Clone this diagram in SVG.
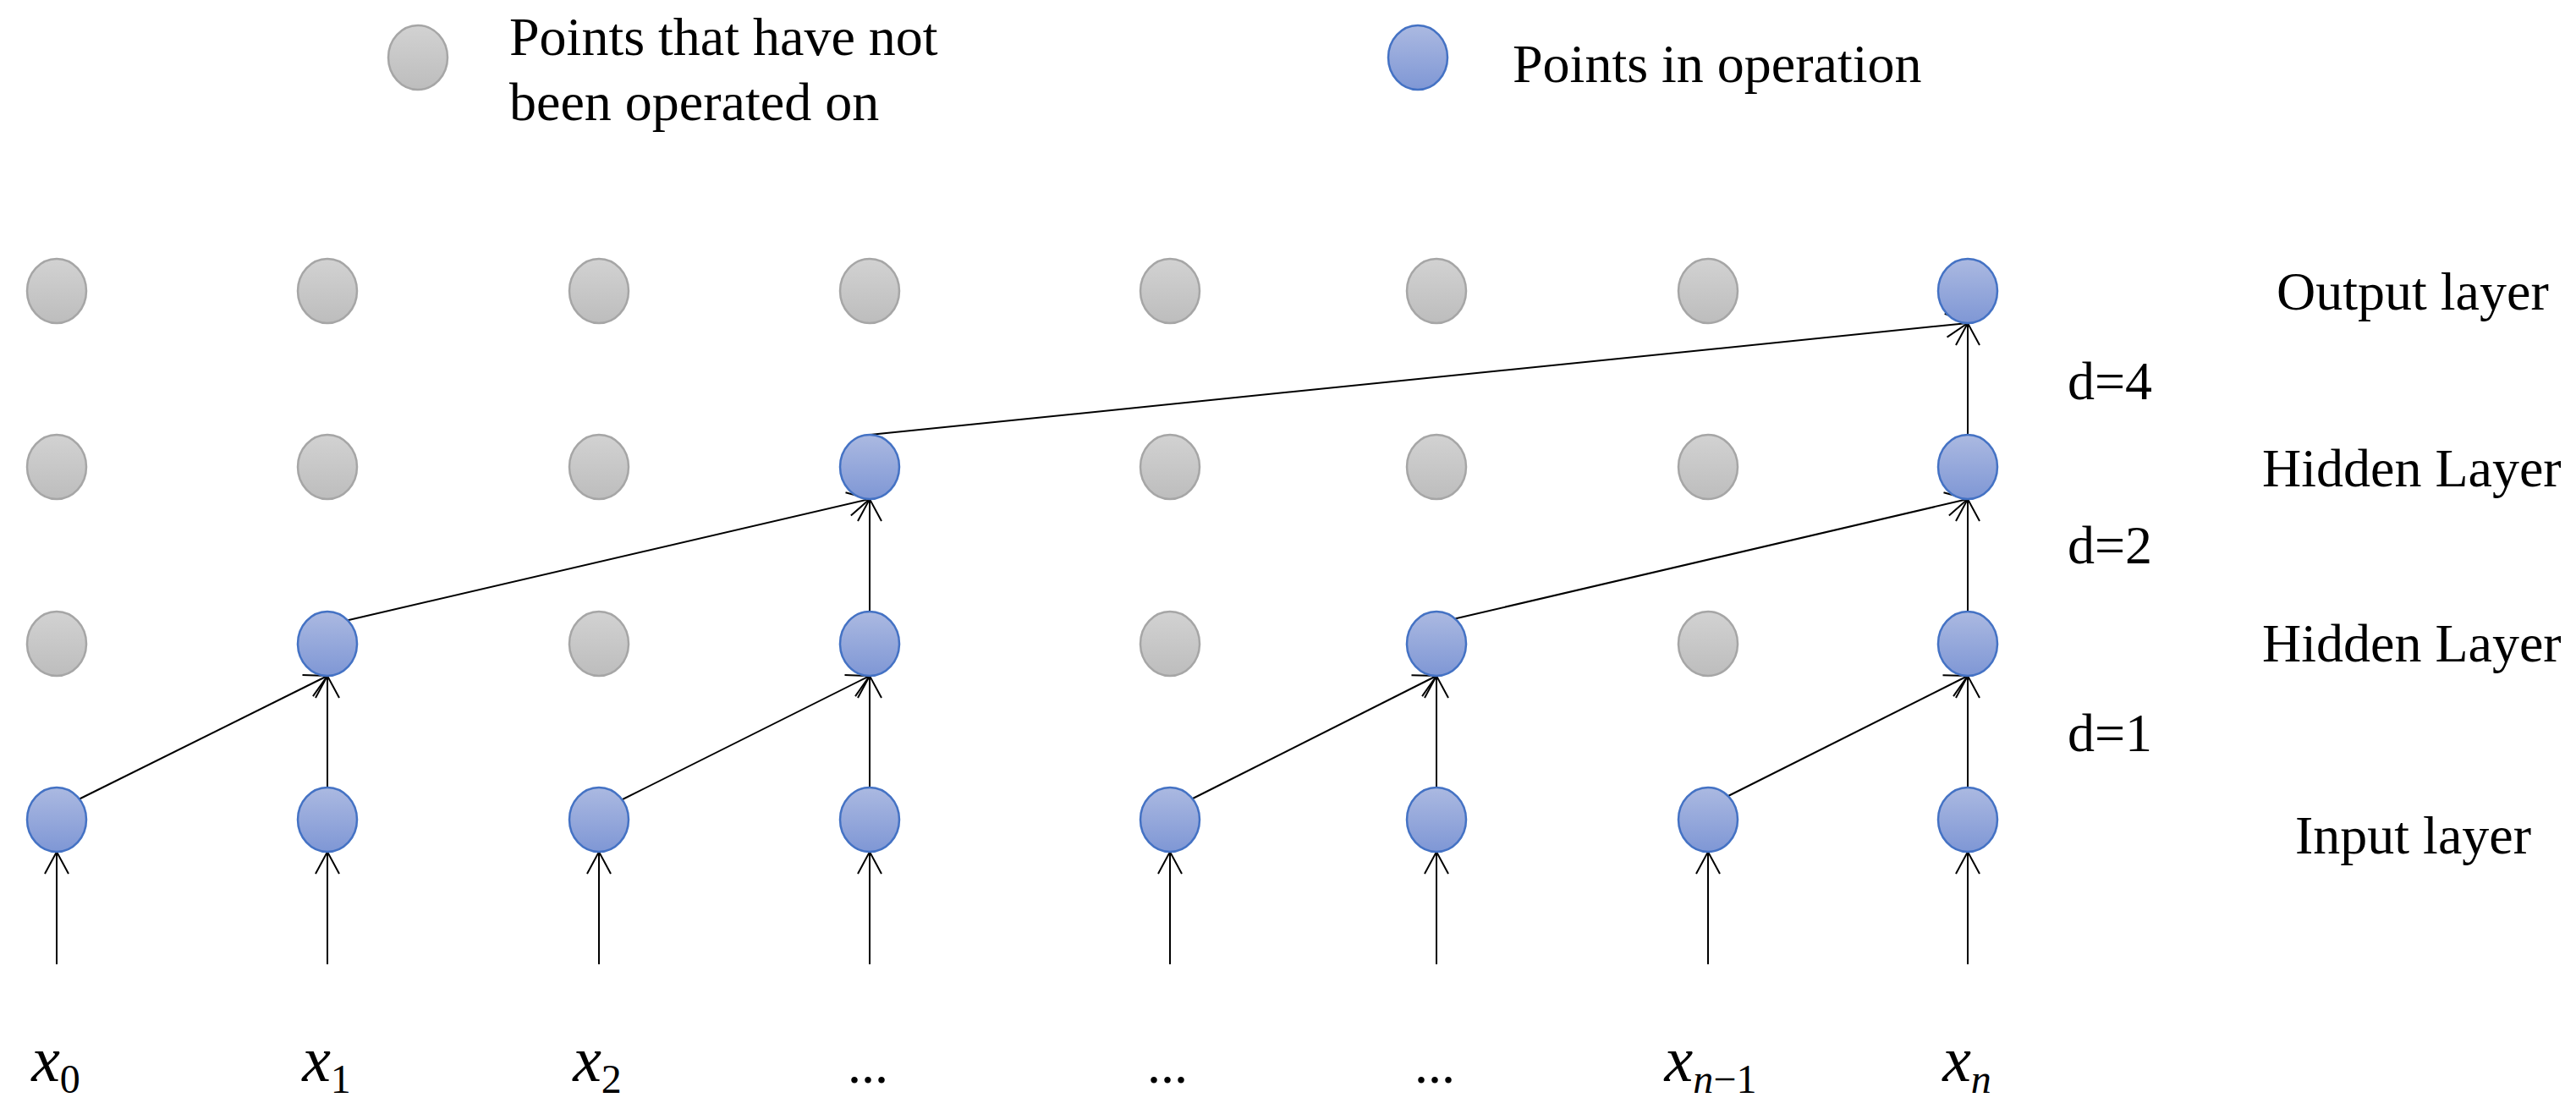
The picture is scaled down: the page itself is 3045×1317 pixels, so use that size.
<svg xmlns="http://www.w3.org/2000/svg" width="3045" height="1317" viewBox="0 0 3045 1317">
<defs>
<linearGradient id="gGray" x1="0" y1="0" x2="0" y2="1">
<stop offset="0" stop-color="#d2d2d2"/><stop offset="1" stop-color="#bdbdbd"/>
</linearGradient>
<linearGradient id="gBlue" x1="0" y1="0" x2="0" y2="1">
<stop offset="0" stop-color="#abb9e1"/><stop offset="1" stop-color="#7f97d5"/>
</linearGradient>
<marker id="arr" markerUnits="userSpaceOnUse" markerWidth="32" markerHeight="32" refX="27" refY="15" orient="auto" overflow="visible">
<path d="M1,1 L27,15 L1,29" fill="none" stroke="#000" stroke-width="2"/>
</marker>
<style>
.g{fill:url(#gGray);stroke:#a6a6a6;stroke-width:2.5}
.b{fill:url(#gBlue);stroke:#4472c4;stroke-width:2.5}
.t{font-family:"Liberation Serif","Times New Roman",serif;font-size:64px;fill:#000}
.m{font-family:"Liberation Serif","Times New Roman",serif;font-size:76px;font-style:italic;fill:#000}
.s{font-size:48px}
.n{font-style:normal}
.c line{stroke:#000;stroke-width:2;marker-end:url(#arr)}
</style>
</defs>
<rect width="3045" height="1317" fill="#fff"/>

<g id="legend-idle"><ellipse class="g" cx="494" cy="68" rx="35" ry="38"/>
<text class="t" x="602" y="65">Points that have not</text>
<text class="t" x="602" y="142">been operated on</text></g>
<g id="legend-active"><ellipse class="b" cx="1676" cy="68" rx="35" ry="38"/>
<text class="t" x="1788" y="97">Points in operation</text></g>

<g id="connectors" class="c">
<line x1="67" y1="1140" x2="67" y2="1007"/>
<line x1="387" y1="1140" x2="387" y2="1007"/>
<line x1="708" y1="1140" x2="708" y2="1007"/>
<line x1="1028" y1="1140" x2="1028" y2="1007"/>
<line x1="1383" y1="1140" x2="1383" y2="1007"/>
<line x1="1698" y1="1140" x2="1698" y2="1007"/>
<line x1="2019" y1="1140" x2="2019" y2="1007"/>
<line x1="2326" y1="1140" x2="2326" y2="1007"/>
<line x1="387" y1="931" x2="387" y2="799"/>
<line x1="1028" y1="931" x2="1028" y2="799"/>
<line x1="1698" y1="931" x2="1698" y2="799"/>
<line x1="2326" y1="931" x2="2326" y2="799"/>
<line x1="91" y1="946" x2="387" y2="799"/>
<line x1="734" y1="946" x2="1028" y2="799"/>
<line x1="1406" y1="946" x2="1698" y2="799"/>
<line x1="2033" y1="946" x2="2326" y2="799"/>
<line x1="1028" y1="723" x2="1028" y2="590"/>
<line x1="2326" y1="723" x2="2326" y2="590"/>
<line x1="408" y1="734" x2="1028" y2="590"/>
<line x1="1709" y1="734" x2="2326" y2="590"/>
<line x1="2326" y1="514" x2="2326" y2="382"/>
<line x1="1028" y1="514" x2="2326" y2="382"/>
</g>

<g id="out0"><ellipse class="g" cx="67" cy="344" rx="35" ry="38"/></g>
<g id="out1"><ellipse class="g" cx="387" cy="344" rx="35" ry="38"/></g>
<g id="out2"><ellipse class="g" cx="708" cy="344" rx="35" ry="38"/></g>
<g id="out3"><ellipse class="g" cx="1028" cy="344" rx="35" ry="38"/></g>
<g id="out4"><ellipse class="g" cx="1383" cy="344" rx="35" ry="38"/></g>
<g id="out5"><ellipse class="g" cx="1698" cy="344" rx="35" ry="38"/></g>
<g id="out6"><ellipse class="g" cx="2019" cy="344" rx="35" ry="38"/></g>
<g id="out7"><ellipse class="b" cx="2326" cy="344" rx="35" ry="38"/></g>

<g id="h2_0"><ellipse class="g" cx="67" cy="552" rx="35" ry="38"/></g>
<g id="h2_1"><ellipse class="g" cx="387" cy="552" rx="35" ry="38"/></g>
<g id="h2_2"><ellipse class="g" cx="708" cy="552" rx="35" ry="38"/></g>
<g id="h2_3"><ellipse class="b" cx="1028" cy="552" rx="35" ry="38"/></g>
<g id="h2_4"><ellipse class="g" cx="1383" cy="552" rx="35" ry="38"/></g>
<g id="h2_5"><ellipse class="g" cx="1698" cy="552" rx="35" ry="38"/></g>
<g id="h2_6"><ellipse class="g" cx="2019" cy="552" rx="35" ry="38"/></g>
<g id="h2_7"><ellipse class="b" cx="2326" cy="552" rx="35" ry="38"/></g>

<g id="h1_0"><ellipse class="g" cx="67" cy="761" rx="35" ry="38"/></g>
<g id="h1_1"><ellipse class="b" cx="387" cy="761" rx="35" ry="38"/></g>
<g id="h1_2"><ellipse class="g" cx="708" cy="761" rx="35" ry="38"/></g>
<g id="h1_3"><ellipse class="b" cx="1028" cy="761" rx="35" ry="38"/></g>
<g id="h1_4"><ellipse class="g" cx="1383" cy="761" rx="35" ry="38"/></g>
<g id="h1_5"><ellipse class="b" cx="1698" cy="761" rx="35" ry="38"/></g>
<g id="h1_6"><ellipse class="g" cx="2019" cy="761" rx="35" ry="38"/></g>
<g id="h1_7"><ellipse class="b" cx="2326" cy="761" rx="35" ry="38"/></g>

<g id="in0"><ellipse class="b" cx="67" cy="969" rx="35" ry="38"/></g>
<g id="in1"><ellipse class="b" cx="387" cy="969" rx="35" ry="38"/></g>
<g id="in2"><ellipse class="b" cx="708" cy="969" rx="35" ry="38"/></g>
<g id="in3"><ellipse class="b" cx="1028" cy="969" rx="35" ry="38"/></g>
<g id="in4"><ellipse class="b" cx="1383" cy="969" rx="35" ry="38"/></g>
<g id="in5"><ellipse class="b" cx="1698" cy="969" rx="35" ry="38"/></g>
<g id="in6"><ellipse class="b" cx="2019" cy="969" rx="35" ry="38"/></g>
<g id="in7"><ellipse class="b" cx="2326" cy="969" rx="35" ry="38"/></g>

<g id="layer-labels">
<text class="t" x="2691" y="366">Output layer</text>
<text class="t" x="2674" y="575">Hidden Layer</text>
<text class="t" x="2674" y="782">Hidden Layer</text>
<text class="t" x="2713" y="1009">Input layer</text>
<text class="t" x="2444" y="472">d=4</text>
<text class="t" x="2444" y="666">d=2</text>
<text class="t" x="2444" y="888">d=1</text>
</g>

<g id="input-labels">
<text class="m" x="66" y="1278" text-anchor="middle">x<tspan class="s n" dy="14">0</tspan></text>
<text class="m" x="386" y="1278" text-anchor="middle">x<tspan class="s n" dy="14">1</tspan></text>
<text class="m" x="706" y="1278" text-anchor="middle">x<tspan class="s n" dy="14">2</tspan></text>
<text class="t" x="1026" y="1280" text-anchor="middle">...</text>
<text class="t" x="1380" y="1280" text-anchor="middle">...</text>
<text class="t" x="1696" y="1280" text-anchor="middle">...</text>
<text class="m" x="2022" y="1278" text-anchor="middle">x<tspan class="s" dy="14">n</tspan><tspan class="s n">−1</tspan></text>
<text class="m" x="2325" y="1278" text-anchor="middle">x<tspan class="s" dy="14">n</tspan></text>
</g>
</svg>
